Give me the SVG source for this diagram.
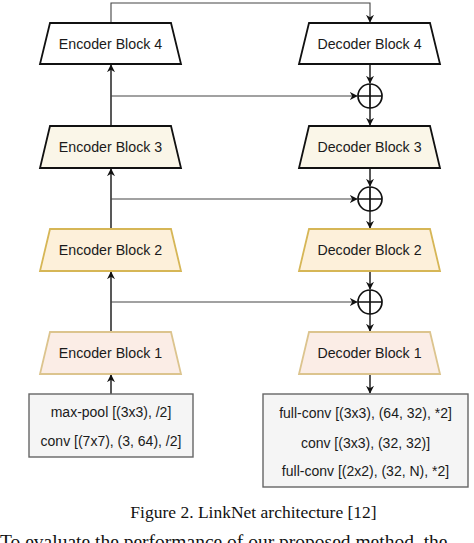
<svg xmlns="http://www.w3.org/2000/svg" width="474" height="543" viewBox="0 0 474 543">
<style>
.lbl{font-family:"Liberation Sans",Arial,sans-serif;font-size:14.2px;fill:#1a1a1a;text-anchor:middle}
.sm{font-family:"Liberation Sans",Arial,sans-serif;font-size:14px;fill:#1a1a1a;text-anchor:middle}
.cap{font-family:"Liberation Serif","Times New Roman",serif;font-size:17.5px;fill:#111}
.l4{fill:#ffffff;stroke:#111;stroke-width:1.8}
.l3{fill:#faf6e8;stroke:#111;stroke-width:1.8}
.l2{fill:#fdf0da;stroke:#d6b656;stroke-width:1.8}
.l1{fill:#fbede6;stroke:#dcc48e;stroke-width:1.8}
.box{fill:#f5f5f5;stroke:#666;stroke-width:1.4}
.v{fill:none;stroke:#222;stroke-width:1.5}
.h{fill:none;stroke:#444;stroke-width:1.1}
.sum{fill:none;stroke:#111;stroke-width:1.7}
</style>
<defs>
<marker id="ah" viewBox="0 0 10 10" refX="9" refY="5" markerWidth="8" markerHeight="8" markerUnits="userSpaceOnUse" orient="auto">
<path d="M0,0 L10,5 L0,10 L3,5 Z" fill="#111"/>
</marker>
</defs>
<g id="connectors">
<path class="h" d="M111,23 V3 H370 V22" marker-end="url(#ah)"/>
<path class="v" d="M111,126 V65" marker-end="url(#ah)"/>
<path class="v" d="M111,229 V169" marker-end="url(#ah)"/>
<path class="v" d="M111,332 V272" marker-end="url(#ah)"/>
<path class="v" d="M111,394 V375" marker-end="url(#ah)"/>
<path class="h" d="M111,96 H357" marker-end="url(#ah)"/>
<path class="h" d="M111,199 H357" marker-end="url(#ah)"/>
<path class="h" d="M111,302 H357" marker-end="url(#ah)"/>
<path class="v" d="M370,64 V83" marker-end="url(#ah)"/>
<path class="v" d="M370,108 V125" marker-end="url(#ah)"/>
<path class="v" d="M370,168 V186" marker-end="url(#ah)"/>
<path class="v" d="M370,211 V228" marker-end="url(#ah)"/>
<path class="v" d="M370,271 V289" marker-end="url(#ah)"/>
<path class="v" d="M370,314 V331" marker-end="url(#ah)"/>
<path class="v" d="M370,374 V393" marker-end="url(#ah)"/>
</g>
<g id="sum4"><circle class="sum" cx="370" cy="96" r="12"/><path class="sum" d="M358,96 H382 M370,84 V108"/></g>
<g id="sum3"><circle class="sum" cx="370" cy="199" r="12"/><path class="sum" d="M358,199 H382 M370,187 V211"/></g>
<g id="sum2"><circle class="sum" cx="370" cy="302" r="12"/><path class="sum" d="M358,302 H382 M370,290 V314"/></g>
<g id="enc4"><path class="l4" d="M50,23 H171 L181,64 H40 Z"/><text class="lbl" x="110.5" y="49">Encoder Block 4</text></g>
<g id="enc3"><path class="l3" d="M50,126 H171 L181,168 H40 Z"/><text class="lbl" x="110.5" y="152">Encoder Block 3</text></g>
<g id="enc2"><path class="l2" d="M50,229 H171 L181,271 H40 Z"/><text class="lbl" x="110.5" y="255">Encoder Block 2</text></g>
<g id="enc1"><path class="l1" d="M50,332 H171 L181,374 H40 Z"/><text class="lbl" x="110.5" y="358">Encoder Block 1</text></g>
<g id="dec4"><path class="l4" d="M309,23 H430 L440,64 H299 Z"/><text class="lbl" x="369.5" y="49">Decoder Block 4</text></g>
<g id="dec3"><path class="l3" d="M309,126 H430 L440,168 H299 Z"/><text class="lbl" x="369.5" y="152">Decoder Block 3</text></g>
<g id="dec2"><path class="l2" d="M309,229 H430 L440,271 H299 Z"/><text class="lbl" x="369.5" y="255">Decoder Block 2</text></g>
<g id="dec1"><path class="l1" d="M309,332 H430 L440,374 H299 Z"/><text class="lbl" x="369.5" y="358">Decoder Block 1</text></g>
<g id="stem"><rect class="box" x="29" y="394" width="164" height="63"/>
<text class="sm" x="111" y="417">max-pool [(3x3), /2]</text>
<text class="sm" x="111" y="446">conv [(7x7), (3, 64), /2]</text></g>
<g id="head"><rect class="box" x="263" y="394" width="205" height="93"/>
<text class="sm" x="365.5" y="418">full-conv [(3x3), (64, 32), *2]</text>
<text class="sm" x="365.5" y="448">conv [(3x3), (32, 32)]</text>
<text class="sm" x="365.5" y="476">full-conv [(2x2), (32, N), *2]</text></g>
<text class="cap" x="253.5" y="518" text-anchor="middle">Figure 2. LinkNet architecture [12]</text>
<text class="cap" x="0" y="548" style="font-size:19.5px">To evaluate the performance of our proposed method, the</text>
</svg>
